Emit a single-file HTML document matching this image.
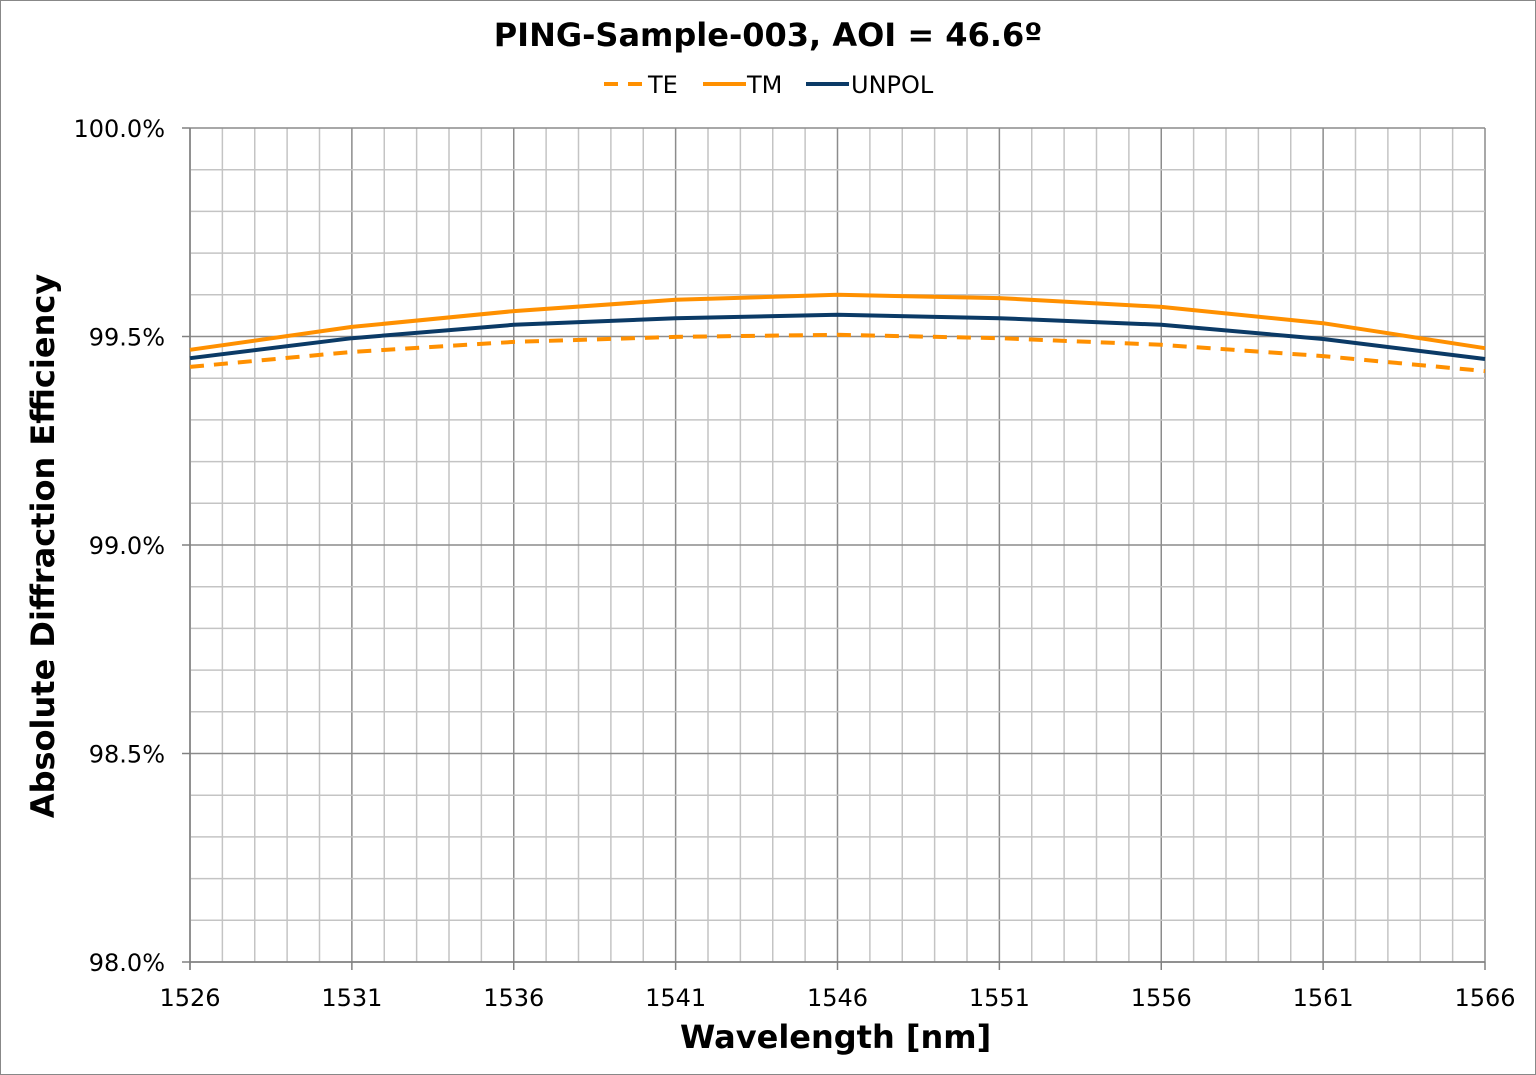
<!DOCTYPE html>
<html><head><meta charset="utf-8">
<style>
html,body{margin:0;padding:0;background:#fff;}
svg{display:block;font-family:"DejaVu Sans","Liberation Sans",sans-serif;}
</style></head>
<body>
<svg id="chart" width="1536" height="1075" viewBox="0 0 1536 1075" xmlns="http://www.w3.org/2000/svg">
<rect x="0.5" y="0.5" width="1535" height="1074" fill="#fff" stroke="#888"/>
<text x="768" y="46" text-anchor="middle" font-size="32" font-weight="bold" fill="#000">PING-Sample-003, AOI = 46.6º</text>
<g>
<g>
<line x1="604" y1="84" x2="646" y2="84" stroke="#FF9000" stroke-width="4" stroke-dasharray="14,10"/>
<text x="648" y="93" font-size="24" fill="#000">TE</text></g>
<g>
<line x1="703" y1="84" x2="746" y2="84" stroke="#FF9000" stroke-width="4"/>
<text x="747" y="93" font-size="24" fill="#000">TM</text></g>
<g>
<line x1="806" y1="84" x2="849" y2="84" stroke="#0B3A66" stroke-width="4"/>
<text x="851" y="93" font-size="24" fill="#000">UNPOL</text></g>
</g>
<g id="grid"></g>
<g id="axes"></g>
<g id="series"></g>
<text x="680" y="1048" font-size="32" font-weight="bold" fill="#000">Wavelength [nm]</text>
<text transform="translate(54,546) rotate(-90)" text-anchor="middle" font-size="32" font-weight="bold" fill="#000">Absolute Diffraction Efficiency</text>
</svg>
<script>
const wavelengths = [1526,1531,1536,1541,1546,1551,1556,1561,1566];
const teValues = [99.427,99.463,99.487,99.499,99.504,99.496,99.480,99.453,99.417];
const tmValues = [99.468,99.523,99.561,99.588,99.600,99.592,99.571,99.532,99.472];
const unpolValues = [99.448,99.496,99.528,99.544,99.552,99.544,99.528,99.494,99.446];
const xTickLabels = ["1526","1531","1536","1541","1546","1551","1556","1561","1566"];
const yTickLabels = ["98.0%","98.5%","99.0%","99.5%","100.0%"];
const yTickValues = [98.0,98.5,99.0,99.5,100.0];

const X0=190,X1=1485,Y0=128,Y1=962;
const xMin=1526,xMax=1566,yMin=98,yMax=100;
const xs=v=>X0+(v-xMin)/(xMax-xMin)*(X1-X0);
const ys=v=>Y1-(v-yMin)/(yMax-yMin)*(Y1-Y0);
const NS="http://www.w3.org/2000/svg";
const grid=document.getElementById('grid');
const axes=document.getElementById('axes');
const series=document.getElementById('series');
function mk(tag,attrs,parent){const e=document.createElementNS(NS,tag);for(const k in attrs)e.setAttribute(k,attrs[k]);parent.appendChild(e);return e;}

for(let w=xMin;w<=xMax;w++){
  const major=(w-xMin)%5===0;
  const l=mk('line',{x1:xs(w),x2:xs(w),y1:Y0,y2:Y1,stroke:major?'#8c8c8c':'#c4c4c4','stroke-width':1.5},grid);
  
  
}
for(let i=0;i<=20;i++){
  const v=yMin+i*0.1;
  const major=i%5===0;
  const l=mk('line',{x1:X0,x2:X1,y1:ys(v),y2:ys(v),stroke:major?'#8c8c8c':'#c4c4c4','stroke-width':1.5},grid);
  
  
}
const ax=mk('line',{x1:X0,x2:X0,y1:Y0,y2:Y1+8,stroke:'#808080','stroke-width':1.5},axes);


const axb=mk('line',{x1:X0,x2:X1,y1:Y1,y2:Y1,stroke:'#808080','stroke-width':1.5},axes);


xTickLabels.forEach((t,i)=>{
  const x=xs(wavelengths[0]+i*5);
  const tk=mk('line',{x1:x,x2:x,y1:Y1,y2:Y1+8,stroke:'#808080','stroke-width':1.5},axes);
  
  
  const tx=mk('text',{x:x,y:Y1+44,'text-anchor':'middle','font-size':24,fill:'#000'},axes);
  tx.textContent=t;
  
  
});
yTickLabels.forEach((t,i)=>{
  const y=ys(yTickValues[i]);
  const tk=mk('line',{x1:X0-8,x2:X0,y1:y,y2:y,stroke:'#808080','stroke-width':1.5},axes);
  
  
  const tx=mk('text',{x:165,y:y+9,'text-anchor':'end','font-size':24,fill:'#000'},axes);
  tx.textContent=t;
  
  
});
function drawLine(vals,color,dash,name){
  const d=vals.map((v,i)=>(i?'L':'M')+xs(wavelengths[i]).toFixed(1)+','+ys(v).toFixed(1)).join(' ');
  const p=mk('path',{d:d,fill:'none',stroke:color,'stroke-width':4,'stroke-linejoin':'round'},series);
  if(dash)p.setAttribute('stroke-dasharray',dash);
  
  
}
drawLine(teValues,'#FF9000','14,10','te-line');
drawLine(tmValues,'#FF9000',null,'tm-line');
drawLine(unpolValues,'#0B3A66',null,'unpol-line');
</script>
</body></html>
